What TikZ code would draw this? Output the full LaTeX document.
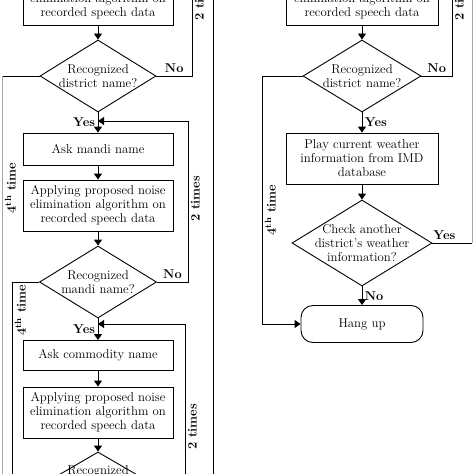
\documentclass[tikz,border=0pt]{standalone}
\usepackage{amsmath}
\usepackage{tikz}
\usetikzlibrary{calc,shapes.geometric,arrows.meta}

\newcommand{\flowfont}{\fontsize{12.8}{14}\selectfont}

\tikzset{
  proc/.style={draw, line width=0.9pt, minimum width=150pt, align=center, inner sep=0pt, font=\flowfont},
  decision/.style={draw, diamond, line width=0.9pt, align=center, inner sep=-2pt, shape aspect=1.6, font=\flowfont},
  term/.style={draw, line width=0.9pt, rounded corners=12pt, minimum width=122pt, minimum height=37pt, font=\flowfont},
  lbl/.style={font=\flowfont\bfseries, inner sep=2.5pt},
  flow/.style={line width=0.9pt},
  arr/.style={flow, -{Triangle[width=8pt,length=6pt]}},
  rim/.style={line width=1pt, draw=black!35}
}

\begin{document}
\begin{tikzpicture}[x=1pt, y=-1pt]
  \useasboundingbox (0,0) rectangle (474,474);

  % left column
  \node[proc, minimum height=51pt] (noiseA) at (98,-0.5) {Applying proposed noise\\elimination algorithm on\\recorded speech data};
  \node[decision, minimum width=116pt, minimum height=72pt] (distL) at (98,76) {Recognized\\district name?};
  \node[proc, minimum height=32pt] (mandi) at (98,149) {Ask mandi name};
  \node[proc, minimum height=51pt] (noiseB) at (98,205.5) {Applying proposed noise\\elimination algorithm on\\recorded speech data};
  \node[decision, minimum width=117pt, minimum height=72pt] (mandiQ) at (98,282) {Recognized\\mandi name?};
  \node[proc, minimum height=30pt] (comm) at (98,355.5) {Ask commodity name};
  \node[proc, minimum height=51pt] (noiseC) at (98,412.5) {Applying proposed noise\\elimination algorithm on\\recorded speech data};
  \node[decision, minimum width=148pt, minimum height=86pt] (commQ) at (98,495) {};
  \node[align=center, font=\flowfont] (commQtxt) at (98,478) {Recognized\\commodity name?};

  % right column
  \node[proc, minimum width=152pt, minimum height=51pt] (noiseR) at (362,-0.5) {Applying proposed noise\\elimination algorithm on\\recorded speech data};
  \node[decision, minimum width=118pt, minimum height=72pt] (distR) at (362,76) {Recognized\\district name?};
  \node[proc, minimum width=152pt, minimum height=51pt] (play) at (362,158.5) {Play current weather\\information from IMD\\database};
  \node[decision, minimum width=140pt, minimum height=86pt, inner sep=-5pt] (again) at (362,243) {Check another\\district's weather\\information?};
  \node[term] (hang) at (362,324) {Hang up};

  \coordinate (distLup) at (192,-40);
  \coordinate (distLdown) at (2,520);
  \coordinate (j1) at (98,121);
  \coordinate (mandiQloop) at (188,121);
  \coordinate (mandiQdown) at (12,520);
  \coordinate (j2) at (98,324);
  \coordinate (commQloop) at (185,324);
  \coordinate (colTop) at (213,-40);
  \coordinate (colBot) at (213,520);
  \coordinate (distRup) at (452,-40);
  \coordinate (distRleft) at (262,76);
  \coordinate (againUp) at (472,-40);

  \draw[arr] (noiseA) -- (distL);
  \draw[arr] (distL) -- node[lbl, left] {Yes} (mandi);
  \draw[flow] (distL.east) -| node[lbl, above, pos=0.25] {No}
                              node[lbl, rotate=90, anchor=north, pos=0.836] {2 times} (distLup);
  \draw[flow] (distL.west) -- (distL.west -| distLdown);
  \draw[rim] (distL.west -| distLdown) -- node[lbl, rotate=90, anchor=north, pos=0.252] {4\textsuperscript{th} time} (distLdown);
  \draw[arr] (mandi) -- (noiseB);
  \draw[arr] (noiseB) -- (mandiQ);
  \draw[arr] (mandiQ.east) -| node[lbl, above, pos=0.25] {No}
                              node[lbl, rotate=90, anchor=north, pos=0.758] {2 times} (mandiQloop) -- (j1);
  \draw[flow] (mandiQ.west) -| node[lbl, rotate=90, anchor=north, pos=0.559] {4\textsuperscript{th} time} (mandiQdown);
  \draw[arr] (mandiQ) -- node[lbl, left] {Yes} (comm);
  \draw[arr] (comm) -- (noiseC);
  \draw[arr] (noiseC) -- (commQ);
  \draw[arr] (commQ.east) -| node[lbl, rotate=90, anchor=north, pos=0.699] {2 times} (commQloop) -- (j2);
  \draw[flow] (colBot) -- (colTop);

  \draw[arr] (noiseR) -- (distR);
  \draw[flow] (distR.east) -| node[lbl, above, pos=0.25] {No}
                              node[lbl, rotate=90, anchor=north, pos=0.836] {2 times} (distRup);
  \draw[arr] (distR.west) -- (distRleft) |- node[lbl, rotate=90, anchor=north, pos=0.27] {4\textsuperscript{th} time} (hang.west);
  \draw[arr] (distR) -- node[lbl, right] {Yes} (play);
  \draw[arr] (play) -- (again);
  \draw[flow] (again.east) -- node[lbl, above, pos=0.3] {Yes} (again.east -| againUp);
  \draw[rim] (again.east -| againUp) -- (againUp);
  \draw[arr] (again) -- node[lbl, right] {No} (hang);
\end{tikzpicture}
\end{document}
